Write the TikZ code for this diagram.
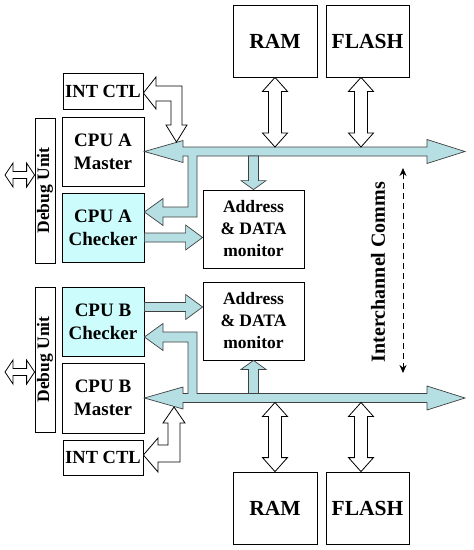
\documentclass[tikz,border=0pt]{standalone}
\usepackage{fontspec}
\setmainfont{Liberation Serif}
\usepackage{tikz}
\usetikzlibrary{calc,arrows.meta}

\definecolor{busfill}{HTML}{B6DFE3}
\definecolor{chkfill}{HTML}{CCFCFC}

\tikzset{
    unit/.style = {draw = black, line width = 0.8pt, fill = white, inner sep = 0pt, align = center, font = \fontsize{19}{23}\selectfont\bfseries},
    membox/.style = {unit, minimum width = 84pt, minimum height = 72pt, font = \fontsize{21.5}{23}\selectfont\bfseries},
    cpubox/.style = {unit, minimum width = 82pt, minimum height = 69pt},
    intbox/.style = {unit, minimum width = 80pt, font = \fontsize{18.5}{20}\selectfont\bfseries},
    monbox/.style = {unit, minimum width = 101pt, minimum height = 78pt, font = \fontsize{17.5}{22}\selectfont\bfseries},
    dbgbox/.style = {unit, rotate = 90, minimum width = 145pt, minimum height = 20pt, font = \fontsize{17.5}{18}\selectfont\bfseries},
    busarrow/.style = {draw = black!75, line width = 0.7pt, fill = busfill},
    hollowarrow/.style = {draw = black, line width = 0.8pt, fill = white},
}

% hollow two-headed arrow, #1 above #2
\newcommand{\vbiarrow}[2]{
    \draw[hollowarrow] let \p1 = (#1), \p2 = (#2) in
        (\x1, \y1) -- (\x1+12.5pt, \y1-14pt) -- (\x1+6.5pt, \y1-14pt)
        -- (\x1+6.5pt, \y2+14pt) -- (\x1+12.5pt, \y2+14pt) -- (\x1, \y2)
        -- (\x1-12.5pt, \y2+14pt) -- (\x1-6.5pt, \y2+14pt)
        -- (\x1-6.5pt, \y1-14pt) -- (\x1-12.5pt, \y1-14pt) -- cycle;
}
% hollow two-headed arrow, #1 left of #2
\newcommand{\hbiarrow}[2]{
    \draw[hollowarrow] let \p1 = (#1), \p2 = (#2) in
        (\x1, \y1) -- (\x1+8pt, \y1+12pt) -- (\x1+8pt, \y1+3.5pt)
        -- (\x2-8pt, \y1+3.5pt) -- (\x2-8pt, \y1+12pt) -- (\x2, \y1)
        -- (\x2-8pt, \y1-12pt) -- (\x2-8pt, \y1-3.5pt)
        -- (\x1+8pt, \y1-3.5pt) -- (\x1+8pt, \y1-12pt) -- cycle;
}
% bus coloured arrow from #1 to the right, tip at #2
\newcommand{\hblock}[2]{
    \draw[busarrow] let \p1 = (#1), \p2 = (#2) in
        (\x1, \y1+4.5pt) -- (\x2-17pt, \y1+4.5pt) -- (\x2-17pt, \y1+12.5pt) -- (\x2, \y1)
        -- (\x2-17pt, \y1-12.5pt) -- (\x2-17pt, \y1-4.5pt) -- (\x1, \y1-4.5pt) -- cycle;
}
% bus coloured vertical arrow from #1, tip at #2
\newcommand{\vblock}[2]{
    \draw[busarrow] let \p1 = (#1), \p2 = (#2), \n1 = {ifthenelse(\y2>\y1, 1, -1)} in
        (\x1-5pt, \y1) -- (\x1-5pt, \y2-\n1*9pt) -- (\x1-12.5pt, \y2-\n1*9pt) -- (\x1, \y2)
        -- (\x1+12.5pt, \y2-\n1*9pt) -- (\x1+5pt, \y2-\n1*9pt) -- (\x1+5pt, \y1) -- cycle;
}

\begin{document}
\begin{tikzpicture}[x = 1pt, y = -1pt]

    \useasboundingbox (0, 0) rectangle (474, 550);

    \node[membox] (ramA) at (275, 41) {RAM};
    \node[membox, minimum width = 83pt] (flashA) at (367.5, 41) {FLASH};
    \node[membox] (ramB) at (275, 508) {RAM};
    \node[membox, minimum width = 83pt] (flashB) at (367.5, 508) {FLASH};

    \node[intbox, minimum height = 36pt] (intA) at (103, 91) {INT CTL};
    \node[cpubox] (masterA) at (103, 151.5) {CPU A\\Master};
    \node[cpubox, fill = chkfill] (checkA) at (103, 227.5) {CPU A\\Checker};
    \node[dbgbox] (dbgA) at (45, 190.5) {Debug Unit};
    \node[monbox] (monA) at (253.5, 229) {Address\\\& DATA\\monitor};

    \node[cpubox, fill = chkfill] (checkB) at (103, 321.5) {CPU B\\Checker};
    \node[cpubox, minimum height = 70pt] (masterB) at (103, 398) {CPU B\\Master};
    \node[intbox, minimum height = 35pt] (intB) at (103, 457.5) {INT CTL};
    \node[dbgbox] (dbgB) at (45, 359.5) {Debug Unit};
    \node[monbox] (monB) at (253.5, 321) {Address\\\& DATA\\monitor};

    \node[rotate = 90, font = \fontsize{20}{22}\selectfont\bfseries] (comms) at (378, 272) {Interchannel Comms};

    \coordinate (busAtop) at (0, 147);
    \coordinate (busAbot) at (0, 156);
    \coordinate (busBtop) at (0, 393.5);
    \coordinate (busBbot) at (0, 402.5);
    \coordinate (dbgAl) at (5, 175);
    \coordinate (dbgBl) at (5, 372);
    \coordinate (commsTop) at (403, 168);
    \coordinate (commsBot) at (403, 373);

    % channel A bus
    \draw[busarrow] (masterA.east) -- (183, 140.5) -- (183, 147) -- (427, 147) -- (427, 139.5)
        -- (465, 151.5) -- (427, 163.5) -- (427, 156) -- (197, 156) -- (197, 217) -- (163, 217)
        -- (163, 225.5) -- (checkA.east |- 0, 212) -- (163, 198.5) -- (163, 207) -- (188, 207)
        -- (188, 156) -- (183, 156) -- (183, 162.5) -- cycle;

    % channel B bus
    \draw[busarrow] (masterB.east) -- (183, 387) -- (183, 393.5) -- (188, 393.5) -- (188, 342)
        -- (163, 342) -- (163, 350.5) -- (checkB.east |- 0, 337) -- (163, 323.5) -- (163, 332)
        -- (197, 332) -- (197, 393.5) -- (427, 393.5) -- (427, 386) -- (465, 398) -- (427, 410)
        -- (427, 402.5) -- (183, 402.5) -- (183, 409) -- cycle;

    \hblock{$(checkA.east)+(0, 10)$}{monA.west};
    \vblock{monA.north |- busAbot}{monA.north};
    \hblock{$(checkB.east)+(0, -14.5)$}{monB.west};
    \vblock{monB.south |- busBtop}{monB.south};

    \vbiarrow{ramA.south}{ramA.south |- busAtop};
    \vbiarrow{$(flashA.south)+(-6.5, 0)$}{$(flashA.south |- busAtop)+(-6.5, 0)$};
    \vbiarrow{ramB.north |- busBbot}{ramB.north};
    \vbiarrow{$(flashB.north |- busBbot)+(-6.5, 0)$}{$(flashB.north)+(-6.5, 0)$};

    \hbiarrow{dbgAl}{dbgA.north};
    \hbiarrow{dbgBl}{dbgB.north};

    \draw[hollowarrow] ($(intA.east)+(0, 2)$) -- (156, 77) -- (156, 86) -- (182, 86) -- (182, 125)
        -- (187, 125) -- (176.5, 142) -- (166, 125) -- (171, 125) -- (171, 101) -- (156, 101)
        -- (156, 109) -- cycle;
    \draw[hollowarrow] ($(intB.east)+(0, -2.5)$) -- (158, 438) -- (158, 445) -- (168, 445) -- (168, 423)
        -- (163, 423) -- (174, 407) -- (185, 423) -- (180, 423) -- (180, 462) -- (158, 462)
        -- (158, 472) -- cycle;

    \draw[line width = 1pt, dash pattern = on 6pt off 4pt, {Stealth[length = 8pt, width = 7pt]}-{Stealth[length = 8pt, width = 7pt]}] (commsTop) -- (commsBot);

\end{tikzpicture}
\end{document}
